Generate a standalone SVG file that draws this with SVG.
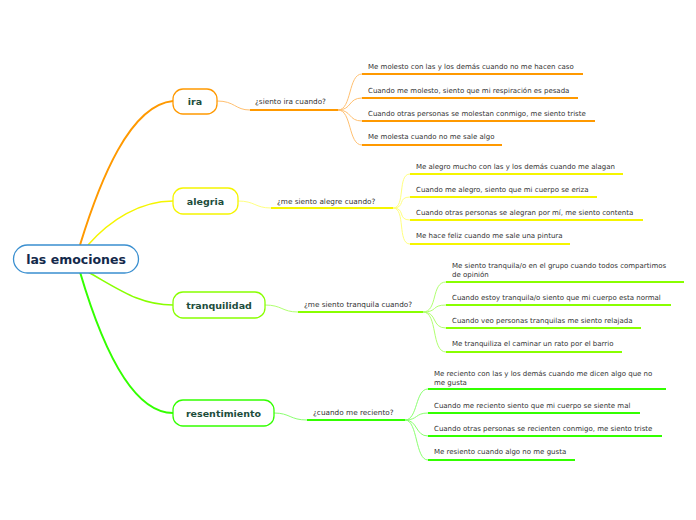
<svg xmlns="http://www.w3.org/2000/svg" width="696" height="520" viewBox="0 0 696 520">
<style>
text{font-family:"DejaVu Sans",Verdana,sans-serif;fill:#333}
.leaf{font-size:7px}
.sub{font-size:7.3px}
.main{font-size:9.5px;font-weight:bold;fill:#1d4d3c}
.c{fill:none}
.o{stroke:#ff9900}.y{stroke:#f5f500}.t{stroke:#88ff00}.r{stroke:#33ff00}
.lo{stroke:#ffc070}.ly{stroke:#ffff80}.lt{stroke:#b0ff70}.lr{stroke:#8aff70}
</style>
<rect width="696" height="520" fill="#fff"/>
<g id="connectors" class="c">
<path class="o" d="M80 245 C100 180,130 105,173 101" stroke-width="2"/>
<path class="y" d="M88 245 C110 220,140 201,173 201" stroke-width="1.5"/>
<path class="t" d="M88 272 C120 290,140 305,173 305" stroke-width="1.5"/>
<path class="r" d="M80 272 C100 340,130 413,173 413" stroke-width="2"/>
<path class="lo" d="M217 101 C235 101,235 110,250 110" stroke-width="1"/>
<path class="o" d="M250 110 H338" stroke-width="2"/>
<path class="ly" d="M238 201 C255 201,255 208,271 208" stroke-width="1"/>
<path class="y" d="M271 208 H393" stroke-width="2"/>
<path class="lt" d="M265 305 C282 305,282 312,298 312" stroke-width="1"/>
<path class="t" d="M298 312 H423" stroke-width="2"/>
<path class="lr" d="M274 413 C290 413,290 420,307 420" stroke-width="1"/>
<path class="r" d="M307 420 H405" stroke-width="2"/>
<g class="lo" stroke-width="1">
<path d="M338 110 C352 110,348 74,362 74"/><path d="M338 110 C352 110,348 98,362 98"/><path d="M338 110 C352 110,348 121,362 121"/><path d="M338 110 C352 110,348 145,362 145"/>
</g>
<g class="o" stroke-width="2"><path d="M362 74H583M362 98H578M362 121H595M362 145H502"/></g>
<g class="ly" stroke-width="1">
<path d="M393 208 C406 208,397 174,410 174"/><path d="M393 208 C406 208,397 197,410 197"/><path d="M393 208 C406 208,397 220,410 220"/><path d="M393 208 C406 208,397 244,410 244"/>
</g>
<g class="y" stroke-width="2"><path d="M410 174H623M410 197H597M410 220H643M410 244H570"/></g>
<g class="lt" stroke-width="1">
<path d="M423 312 C438 312,431 282,446 282"/><path d="M423 312 C438 312,431 305,446 305"/><path d="M423 312 C438 312,431 328,446 328"/><path d="M423 312 C438 312,431 352,446 352"/>
</g>
<g class="t" stroke-width="2"><path d="M446 282H684M446 305H671M446 328H641M446 352H622"/></g>
<g class="lr" stroke-width="1">
<path d="M405 420 C418 420,415 389,428 389"/><path d="M405 420 C418 420,415 413,428 413"/><path d="M405 420 C418 420,415 436,428 436"/><path d="M405 420 C418 420,415 460,428 460"/>
</g>
<g class="r" stroke-width="2"><path d="M428 389H666M428 413H640M428 436H662M428 460H575"/></g>
</g>
<g id="central"><rect x="13.5" y="245" width="125" height="28" rx="14" fill="#fff" stroke="#3a8fd0" stroke-width="1.3"/><text x="76" y="264" text-anchor="middle" style="font-size:12.5px;font-weight:bold;fill:#13294b">las emociones</text></g>
<g id="ira"><rect x="173" y="89" width="44" height="25" rx="10" fill="#fff" stroke="#ff9900" stroke-width="1.3"/><text class="main" x="195" y="105" text-anchor="middle">ira</text></g>
<g id="alegria"><rect x="173" y="188" width="65" height="26" rx="10" fill="#fff" stroke="#f5f500" stroke-width="1.3"/><text class="main" x="205.5" y="205" text-anchor="middle">alegria</text></g>
<g id="tranquilidad"><rect x="173" y="292" width="92" height="26" rx="10" fill="#fff" stroke="#88ff00" stroke-width="1.3"/><text class="main" x="219" y="309" text-anchor="middle">tranquilidad</text></g>
<g id="resentimiento"><rect x="173" y="400" width="101" height="26" rx="10" fill="#fff" stroke="#33ff00" stroke-width="1.3"/><text class="main" x="223.5" y="417" text-anchor="middle">resentimiento</text></g>
<g id="sub-ira"><text class="sub" x="255" y="104">¿siento ira cuando?</text></g>
<g id="sub-alegria"><text class="sub" x="277" y="204">¿me siento alegre cuando?</text></g>
<g id="sub-tranquilidad"><text class="sub" x="304" y="307">¿me siento tranquila cuando?</text></g>
<g id="sub-resentimiento"><text class="sub" x="313" y="415">¿cuando me reciento?</text></g>
<g id="leaves-ira" class="leaf">
<text class="leaf" x="368" y="69">Me molesto con las y los demás cuando no me hacen caso</text>
<text class="leaf" x="368" y="93">Cuando me molesto, siento que mi respiración es pesada</text>
<text class="leaf" x="368" y="116">Cuando otras personas se molestan conmigo, me siento triste</text>
<text class="leaf" x="368" y="139">Me molesta cuando no me sale algo</text>
</g>
<g id="leaves-alegria">
<text class="leaf" x="416" y="169">Me alegro mucho con las y los demás cuando me alagan</text>
<text class="leaf" x="416" y="192">Cuando me alegro, siento que mi cuerpo se eriza</text>
<text class="leaf" x="416" y="215">Cuando otras personas se alegran por mí, me siento contenta</text>
<text class="leaf" x="416" y="238">Me hace feliz cuando me sale una pintura</text>
</g>
<g id="leaves-tranquilidad">
<text class="leaf" x="452" y="268">Me siento tranquila/o en el grupo cuando todos compartimos</text>
<text class="leaf" x="452" y="277">de opinión</text>
<text class="leaf" x="452" y="300">Cuando estoy tranquila/o siento que mi cuerpo esta normal</text>
<text class="leaf" x="452" y="323">Cuando veo personas tranquilas me siento relajada</text>
<text class="leaf" x="452" y="346">Me tranquiliza el caminar un rato por el barrio</text>
</g>
<g id="leaves-resentimiento">
<text class="leaf" x="434" y="376">Me reciento con las y los demás cuando me dicen algo que no</text>
<text class="leaf" x="434" y="385">me gusta</text>
<text class="leaf" x="434" y="408">Cuando me reciento siento que mi cuerpo se siente mal</text>
<text class="leaf" x="434" y="431">Cuando otras personas se recienten conmigo, me siento triste</text>
<text class="leaf" x="434" y="454">Me resiento cuando algo no me gusta</text>
</g>
</svg>
